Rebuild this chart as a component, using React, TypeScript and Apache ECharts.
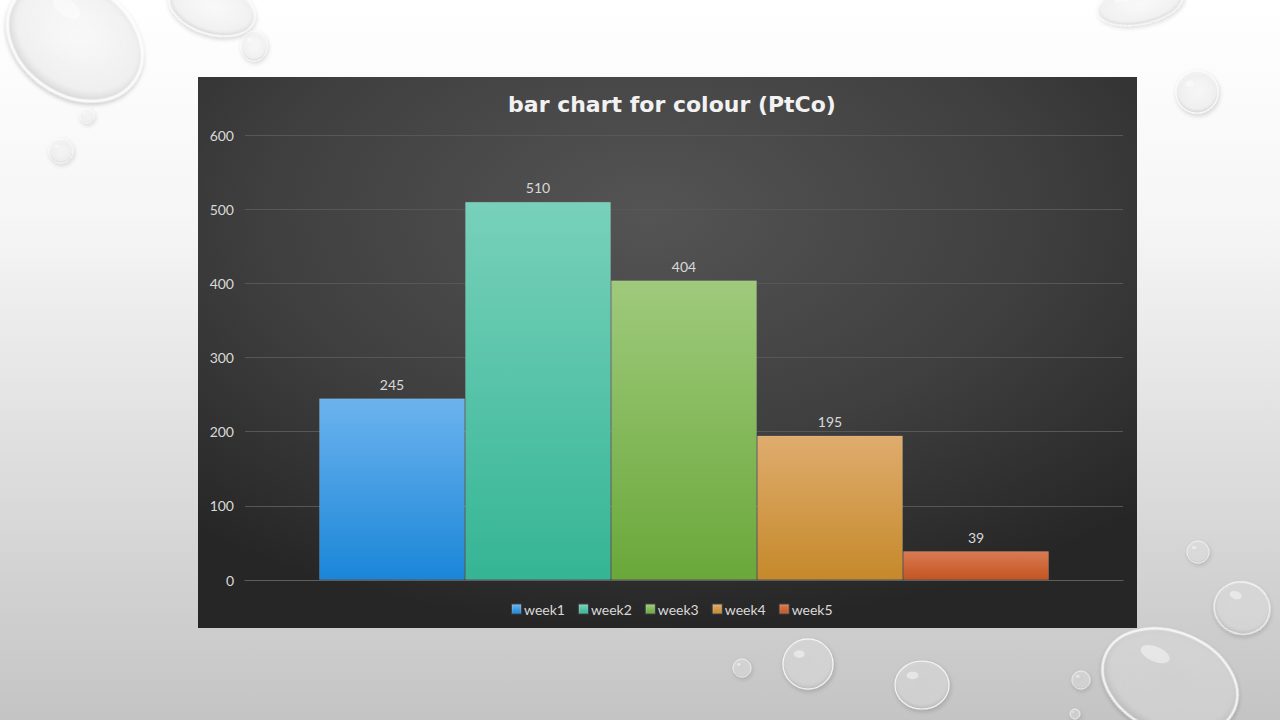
import React, { useEffect, useRef } from "react";
import * as echarts from "echarts";

const categories = ["week1", "week2", "week3", "week4", "week5"];
const values = [245, 510, 404, 195, 39];
const yTicks = [0, 100, 200, 300, 400, 500, 600];
const colorTops = ["#6cb3ee", "#78d1ba", "#9fca7c", "#deac6e", "#d97a52"];
const colorBottoms = ["#1a86d8", "#35b595", "#6aa83a", "#c6892a", "#c45522"];
const legendColors = ["#3d9be6", "#52c3a4", "#84bb58", "#d59b45", "#cf6a3a"];

const FONT = "Lato, 'DejaVu Sans', sans-serif";

function drop(cx: number, cy: number, rx: number, ry: number, rot = 0): any {
  return {
    type: "group",
    x: cx,
    y: cy,
    rotation: rot,
    z: -50,
    children: [
      {
        type: "ellipse",
        shape: { cx: 0, cy: 0, rx, ry },
        style: {
          fill: {
            type: "radial",
            x: 0.5,
            y: 0.45,
            r: 0.6,
            colorStops: [
              { offset: 0, color: "rgba(255,255,255,0.2)" },
              { offset: 0.75, color: "rgba(240,240,240,0.35)" },
              { offset: 1, color: "rgba(160,160,160,0.45)" },
            ],
          },
          stroke: "rgba(255,255,255,0.8)",
          lineWidth: Math.max(0.8, Math.min(rx, ry) / 20),
          shadowColor: "rgba(0,0,0,0.3)",
          shadowBlur: 4,
          shadowOffsetX: 1,
          shadowOffsetY: 2,
        },
      },
      {
        type: "ellipse",
        shape: { cx: -rx * 0.35, cy: -ry * 0.4, rx: rx * 0.22, ry: ry * 0.15 },
        style: { fill: "rgba(255,255,255,0.45)" },
      },
    ],
  };
}

export default function App() {
  const ref = useRef<HTMLDivElement>(null);
  useEffect(() => {
    document.body.style.margin = "0";
    const chart = echarts.init(ref.current!, undefined, { renderer: "svg" });
    const series = categories.map((name, i) => ({
      name,
      type: "bar",
      data: [values[i]],
      barGap: "0%",
      barWidth: 146,
      itemStyle: {
        color: {
          type: "linear",
          x: 0,
          y: 0,
          x2: 0,
          y2: 1,
          colorStops: [
            { offset: 0, color: colorTops[i] },
            { offset: 1, color: colorBottoms[i] },
          ],
        },
        borderColor: "rgba(255,255,255,0.12)",
        borderWidth: 1,
      },
      label: {
        show: true,
        position: "top",
        distance: 7,
        color: "#d9d9d9",
        fontSize: 14,
        fontFamily: FONT,
      },
    }));
    chart.setOption({
      animation: false,
      backgroundColor: {
        type: "linear",
        x: 0,
        y: 0,
        x2: 0,
        y2: 1,
        colorStops: [
          { offset: 0, color: "#ffffff" },
          { offset: 0.3, color: "#f6f6f6" },
          { offset: 1, color: "#c4c4c4" },
        ],
      },
      color: legendColors,
      graphic: [
        drop(75, 40, 72, 55, -0.6),
        drop(212, 8, 44, 26, -0.3),
        drop(254, 46, 13, 15, 0),
        drop(87, 116, 7, 7, 0),
        drop(61, 151, 12, 12, 0),
        drop(1140, 4, 43, 20, 0.2),
        drop(1197, 92, 21, 21, 0),
        drop(1198, 552, 11, 11, 0),
        drop(1242, 608, 28, 26, -0.3),
        drop(1170, 682, 70, 50, -0.4),
        drop(808, 664, 25, 25, 0),
        drop(742, 668, 9, 9, 0),
        drop(922, 685, 27, 24, 0),
        drop(1081, 680, 9, 9, 0),
        drop(1075, 714, 5, 5, 0),
        {
          type: "rect",
          z: -40,
          shape: { x: 198, y: 77, width: 939, height: 551 },
          style: {
            fill: {
              type: "radial",
              x: 0.48,
              y: 0.25,
              r: 0.75,
              colorStops: [
                { offset: 0, color: "#545454" },
                { offset: 0.55, color: "#3f3f3f" },
                { offset: 1, color: "#262626" },
              ],
            },
          },
        },
      ],
      title: {
        text: "bar chart for colour (PtCo)",
        left: 667,
        textAlign: "center",
        top: 88,
        textStyle: {
          color: "#f2f2f2",
          fontSize: 22,
          fontWeight: "bold",
          fontFamily: "'DejaVu Sans', sans-serif",
        },
      },
      legend: {
        data: categories,
        left: 506,
        top: 597,
        orient: "horizontal",
        itemWidth: 9,
        itemHeight: 9,
        itemGap: 13,
        icon: "rect",
        textStyle: { color: "#d9d9d9", fontSize: 14, fontFamily: FONT, padding: [0, 0, 0, -2] },
      },
      grid: { left: 245, right: 157, top: 135, bottom: 140, containLabel: false },
      xAxis: {
        type: "category",
        data: [""],
        axisLine: { lineStyle: { color: "#5e5e5e" } },
        axisTick: { show: false },
        axisLabel: { show: false },
      },
      yAxis: {
        type: "value",
        min: yTicks[0],
        max: yTicks[yTicks.length - 1],
        interval: 100,
        axisLine: { show: false },
        axisTick: { show: false },
        axisLabel: { color: "#d9d9d9", fontSize: 14, fontFamily: FONT, margin: 11 },
        splitLine: { lineStyle: { color: "#575757", width: 1 } },
      },
      series,
    });
    return () => chart.dispose();
  }, []);
  return (
    <div
      ref={ref}
      style={{ position: "fixed", left: 0, top: 0, width: 1280, height: 720 }}
    />
  );
}
